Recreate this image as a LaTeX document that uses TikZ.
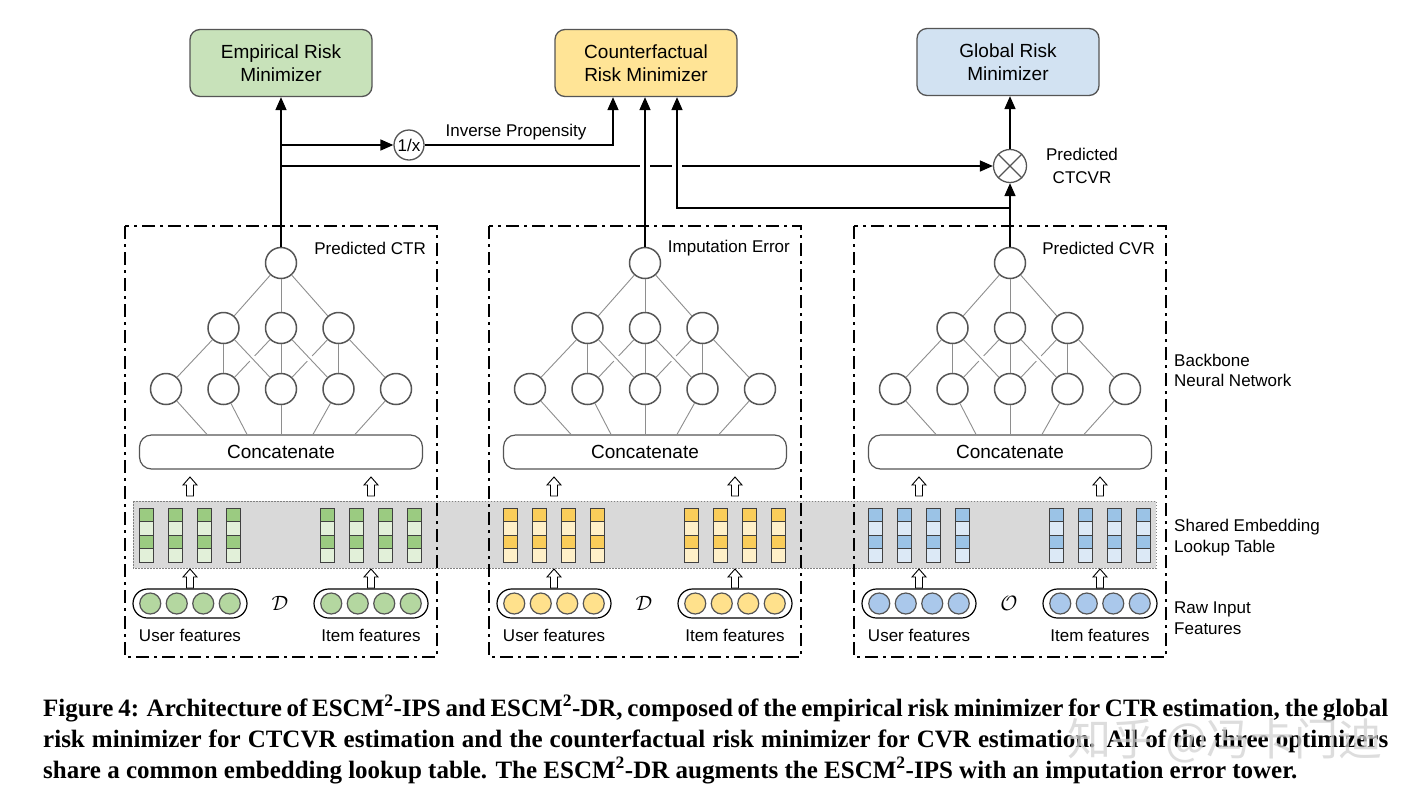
\documentclass[tikz,border=0pt]{standalone}
\usepackage{fontspec}
\setmainfont{Liberation Sans}
\newfontfamily\capfont{Liberation Serif}
\newfontfamily\cjk{Noto Sans CJK SC}
\usetikzlibrary{arrows.meta,calc}

\definecolor{boxline}{HTML}{555555}
\definecolor{linkgray}{HTML}{8E8E8E}
\definecolor{celline}{HTML}{404040}
\definecolor{bandgray}{HTML}{D9D9D9}
\definecolor{grnB}{HTML}{C8E2BA}
\definecolor{grnD}{HTML}{9BCB81}
\definecolor{grnL}{HTML}{E2F0D9}
\definecolor{grnF}{HTML}{B4D7A0}
\definecolor{ylwB}{HTML}{FFE496}
\definecolor{ylwD}{HTML}{FACD5A}
\definecolor{ylwL}{HTML}{FFF0C8}
\definecolor{ylwF}{HTML}{FFE18C}
\definecolor{bluB}{HTML}{D2E2F2}
\definecolor{bluD}{HTML}{9BC3E6}
\definecolor{bluL}{HTML}{DCE9F6}
\definecolor{bluF}{HTML}{AAC8EB}

\begin{document}
\begin{tikzpicture}[x=1pt,y=-1pt,inner sep=0pt,font=\fontsize{17}{20.5}\selectfont,
	riskbox/.style={draw=boxline,line width=1.3pt,rounded corners=10pt,minimum width=182pt,minimum height=67pt,align=center,font=\fontsize{19}{23}\selectfont},
	neuron/.style={circle,draw=boxline,line width=1.5pt,fill=white,minimum size=31pt},
	link/.style={draw=linkgray,line width=0.9pt},
	concat/.style={draw=boxline,line width=1.2pt,rounded corners=12pt,minimum width=283pt,minimum height=34pt,font=\fontsize{19}{23}\selectfont},
	cell/.style={draw=celline,line width=0.9pt},
	hollow/.style={draw=black,line width=0.9pt,fill=white},
	pill/.style={draw=black,line width=1.2pt,rounded corners=14.5pt,minimum width=114pt,minimum height=29pt},
	feat/.style={circle,draw=boxline,line width=1.2pt,minimum size=21pt},
	conn/.style={line width=1.6pt,-{Triangle[length=13pt,width=11pt]}},
	wire/.style={line width=1.6pt},
	dashdot/.style={line width=1.8pt,dash pattern=on 13pt off 5pt on 3pt off 5pt},
	side/.style={anchor=west,align=left},
	capline/.style={anchor=base west,font=\capfont\fontsize{25}{31}\selectfont\bfseries}]
	\fill [white] (0,0) rectangle (1418,796);
	\useasboundingbox (0,0) rectangle (1418,796);

	% minimizers
	\node [riskbox, fill=grnB] (erm) at (281,63) {Empirical Risk\\Minimizer};
	\node [riskbox, fill=ylwB] (crm) at (646,63) {Counterfactual\\Risk Minimizer};
	\node [riskbox, fill=bluB] (grm) at (1008,62) {Global Risk\\Minimizer};

	% shared embedding table
	\draw [fill=bandgray, draw=gray, line width=1pt, dash pattern=on 1.5pt off 1.5pt] (133,501) rectangle (1156,568);

	% three towers
	\foreach \dx/\t/\c/\lab/\dom in {0/a/grn/Predicted CTR/D, 364/b/ylw/Imputation Error/D, 729/c/blu/Predicted CVR/O} {
		\begin{scope}[xshift=\dx pt]
			\draw [dashdot] (125,226) rectangle (437,657);
			\node [anchor=east] (lab\t) at (426,248) {\lab};
			\node [neuron] (top\t) at (281,263) {};
			\foreach \i/\xx in {1/223.5,2/281,3/338.5}
				\node [neuron] (m\i\t) at (\xx,328) {};
			\foreach \i/\xx in {1/166,2/223.5,3/281,4/338.5,5/396}
				\node [neuron] (b\i\t) at (\xx,389) {};
			\node [concat] (cat\t) at (281,452) {Concatenate};
			\foreach \i in {1,2,3}
				\draw [link] (top\t) -- (m\i\t);
			\draw [link] (m1\t) -- (b1\t) (m2\t) -- (b2\t) (m3\t) -- (b3\t);
			\draw [link] (m1\t) -- (b2\t) (m2\t) -- (b3\t) (m3\t) -- (b4\t);
			\draw [white, line width=7pt] ($(m1\t)!0.42!(b3\t)$) -- ($(m1\t)!0.58!(b3\t)$);
			\draw [white, line width=7pt] ($(m2\t)!0.42!(b4\t)$) -- ($(m2\t)!0.58!(b4\t)$);
			\draw [link] (m1\t) -- (b3\t) (m2\t) -- (b4\t) (m3\t) -- (b5\t);
			\foreach \i/\o in {1/-74,2/-34,3/0,4/32,5/74}
				\draw [link] (b\i\t) -- ([xshift=\o pt]cat\t.north);
			% embedding columns
			\foreach \xx in {146.5,175.5,204.5,233.5,327.5,356.5,385.5,414.5}
				\foreach \r/\f in {0/D,1/L,2/D,3/L}
					\draw [cell, fill=\c\f] (\xx-7,508+13.5*\r) rectangle ++(14,13.5);
			\foreach \xx in {190,371}
				\foreach \yy in {477,569}
					\draw [hollow] (\xx,\yy) -- ++(7,8) -- ++(-3.5,0) -- ++(0,11) -- ++(-7,0) -- ++(0,-11) -- ++(-3.5,0) -- cycle;
			% raw input features
			\node [pill] (user\t) at (190,603.5) {};
			\node [pill] (item\t) at (371,603.5) {};
			\foreach \k in {1,...,4} {
				\node [feat, fill=\c F] (fu\k\t) at (123.75+26.5*\k,603.5) {};
				\node [feat, fill=\c F] (fi\k\t) at (304.75+26.5*\k,603.5) {};
			}
			\node [font=\fontsize{20}{24}\selectfont] (dom\t) at (280,603) {$\mathcal{\dom}$};
			\node (ulab\t) at (190,635) {User features};
			\node (ilab\t) at (371,635) {Item features};
		\end{scope}
	}

	% side labels
	\node [side] (bb) at (1174,370.5) {Backbone\\Neural Network};
	\node [side] (emb) at (1174,537.5) {Shared Embedding\\Lookup Table};
	\node [side] (raw) at (1174,618) {Raw Input\\Features};

	% connectors to the minimizers
	\coordinate (h2) at (0,166);
	\coordinate (h3) at (0,208);
	\node [circle, draw=boxline, line width=1.3pt, minimum size=30pt] (inv) at (409,145) {1/x};
	\node (ipl) at (516,132) {Inverse Propensity};
	\node [circle, draw=boxline, line width=1.3pt, minimum size=33pt] (mult) at (topc |- h2) {};
	\draw [boxline, line width=1.3pt] (mult.45) -- (mult.225) (mult.135) -- (mult.315);
	\node [align=center, font=\fontsize{17}{23}\selectfont] (ctcvr) at (1082,165.5) {Predicted\\CTCVR};
	\coordinate (s1) at (topa |- inv);
	\coordinate (s2) at (topa |- h2);
	\coordinate (s3) at (topc |- h3);
	\coordinate (cr1) at ([xshift=-33pt]crm.south);
	\coordinate (cr2) at ([xshift=31pt]crm.south);
	\coordinate (j1) at (topb |- h2);
	\coordinate (j2) at (cr2 |- h2);
	\draw [conn] (topa) -- (erm);
	\draw [conn] (s1) -- (inv);
	\draw [conn] (inv) -| (cr1);
	\draw [conn] (topb) -- (topb |- crm.south);
	\draw [conn] (s3) -| (cr2);
	\draw [wire] (s2) -- ([xshift=-5pt]j1) ([xshift=5pt]j1) -- ([xshift=-5pt]j2);
	\draw [conn] ([xshift=5pt]j2) -- (mult);
	\draw [conn] (topc) -- (mult);
	\draw [conn] (mult) -- (mult |- grm.south);

	% caption
	\node [capline] (cap1) at (43,716) {\makebox[1345pt][s]{Figure 4: Architecture of ESCM\textsuperscript{2}-IPS and ESCM\textsuperscript{2}-DR, composed of the empirical risk minimizer for CTR estimation, the global}};
	\node [capline] (cap2) at (43,747) {\makebox[1345pt][s]{risk minimizer for CTCVR estimation and the counterfactual risk minimizer for CVR estimation. All of the three optimizers}};
	\node [capline] (cap3) at (43,778) {share a common embedding lookup table. The ESCM\textsuperscript{2}-DR augments the ESCM\textsuperscript{2}-IPS with an imputation error tower.};
	\node [font=\cjk\fontsize{44}{46}\selectfont, text=gray!35, opacity=0.75] (wm) at (1225,741) {知乎 @冯卡门迪};
\end{tikzpicture}
\end{document}
